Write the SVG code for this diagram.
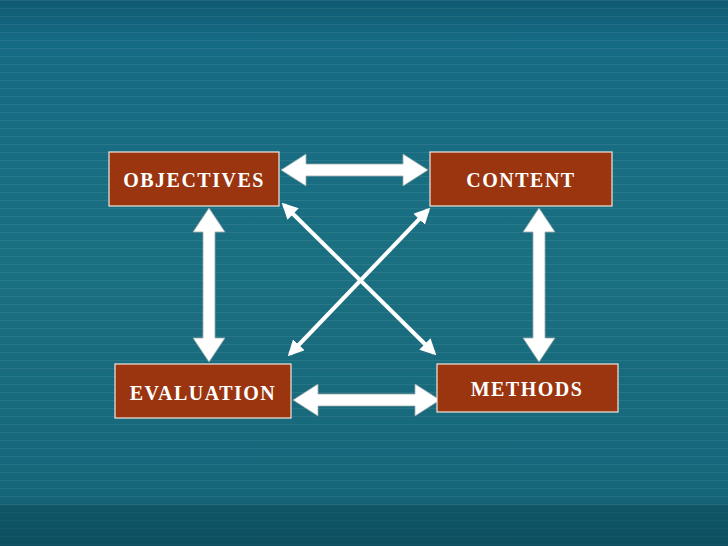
<svg xmlns="http://www.w3.org/2000/svg" width="728" height="546" viewBox="0 0 728 546">
<defs>
<linearGradient id="bg" x1="0" y1="0" x2="0" y2="1">
<stop offset="0" stop-color="#0f5a72"/><stop offset="0.08" stop-color="#166b84"/><stop offset="0.5" stop-color="#1a6f80"/><stop offset="0.9" stop-color="#16667a"/><stop offset="1" stop-color="#0e4f5f"/>
</linearGradient>
<pattern id="lines" width="728" height="8" patternUnits="userSpaceOnUse"><rect x="0" y="0" width="728" height="1" fill="#ffffff" opacity="0.07"/></pattern>
<marker id="ah" viewBox="0 0 10 10" refX="8" refY="5" markerWidth="4" markerHeight="4" orient="auto-start-reverse"><path d="M0,0 L10,5 L0,10 Z" fill="#fff"/></marker>
</defs>
<style>
.box{fill:#9a3510;stroke:#f2e6dc;stroke-width:1.2}
.lbl{font-family:"Liberation Serif",serif;font-weight:bold;font-size:20px;letter-spacing:1.5px;fill:#fff;text-anchor:middle}
.arr{fill:#fff;stroke:#9aa;stroke-width:0.8}
</style>
<rect width="728" height="546" fill="url(#bg)"/>
<rect width="728" height="546" fill="url(#lines)"/>
<rect y="505" width="728" height="41" fill="#0d5060" opacity="0.6"/>
<g id="connectors">
<polygon class="arr" points="281,170 306,154 306,164 403,164 403,154 428,170 403,186 403,176 306,176 306,186"/>
<polygon class="arr" points="293,400 318,384 318,394 415,394 415,384 440,400 415,416 415,406 318,406 318,416"/>
<polygon class="arr" points="209,208 193,232 203,232 203,338 193,338 209,362 225,338 215,338 215,232 225,232"/>
<polygon class="arr" points="539,208 523,232 533,232 533,338 523,338 539,362 555,338 545,338 545,232 555,232"/>
<line x1="284" y1="205" x2="434" y2="353" stroke="#fff" stroke-width="4" marker-start="url(#ah)" marker-end="url(#ah)"/>
<line x1="428" y1="210" x2="290" y2="354" stroke="#fff" stroke-width="4" marker-start="url(#ah)" marker-end="url(#ah)"/>
</g>
<g id="objectives"><rect class="box" x="109" y="152" width="170" height="54"/><text class="lbl" x="194" y="187">OBJECTIVES</text></g>
<g id="content"><rect class="box" x="430" y="152" width="182" height="54"/><text class="lbl" x="521" y="187">CONTENT</text></g>
<g id="evaluation"><rect class="box" x="115" y="364" width="176" height="54"/><text class="lbl" x="203" y="400">EVALUATION</text></g>
<g id="methods"><rect class="box" x="437" y="364" width="181" height="48"/><text class="lbl" x="527" y="396">METHODS</text></g>
</svg>
